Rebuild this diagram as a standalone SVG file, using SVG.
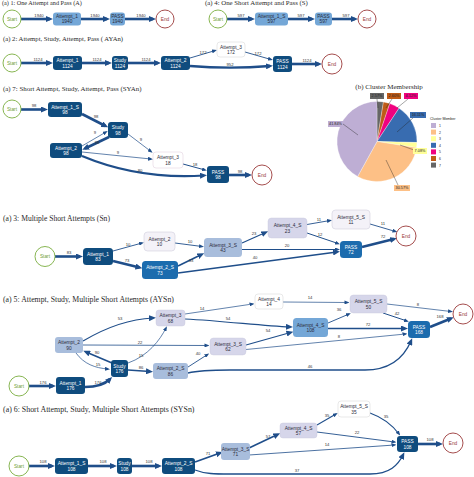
<svg xmlns="http://www.w3.org/2000/svg" width="474" height="477" viewBox="0 0 474 477">
<style>
.t{font-family:"Liberation Serif",serif;fill:#2a2a2a}
.n{font-family:"Liberation Sans",Arial,sans-serif;font-size:4.8px;text-anchor:middle}
.l{font-family:"Liberation Sans",Arial,sans-serif;font-size:4.2px;text-anchor:middle;fill:#333}
.wt{fill:#fff}.kt{fill:#2b2b3a}
.e{fill:none;stroke:#1f4e8a}
.ea{fill:none;stroke:#1f4e8a;marker-end:url(#a)}
.es{fill:none;stroke:#1f4e8a;marker-end:url(#s)}
.st{fill:#fff;stroke:#7aae3f;stroke-width:0.9}.stt{fill:#6f9f35}
.en{fill:#fff;stroke:#9b3a3a;stroke-width:0.9}.ent{fill:#9b3a3a}
.dk{fill:#0f4c7e}
.bl{fill:#1c6cae}
.lb{fill:#74a7d7}
.sb{fill:#a8bddc}
.lv{fill:#d6d6ea;stroke:#c4c4dc;stroke-width:0.4}
.pl{fill:#f4f2f8;stroke:#c9c6d6;stroke-width:0.5}
.wh{fill:#fff;stroke:#d2d2d2;stroke-width:0.5}
.pk{fill:#fff;stroke:#dcc8d8;stroke-width:0.5}
.pt{font-family:"Liberation Sans",Arial,sans-serif;font-size:3.8px;text-anchor:middle;fill:#222}
.ld{stroke:#222;stroke-width:0.4}
</style>
<defs>
<marker id="a" markerUnits="userSpaceOnUse" markerWidth="7" markerHeight="6" refX="4" refY="3" orient="auto"><path d="M0,0 L7,3 L0,6 z" fill="#1f4e8a"/></marker>
<marker id="s" markerUnits="userSpaceOnUse" markerWidth="5" markerHeight="4" refX="3" refY="2" orient="auto"><path d="M0,0 L5,2 L0,4 z" fill="#1f4e8a"/></marker>
</defs>
<rect width="474" height="477" fill="#fff"/>

<!-- titles -->
<text class="t" x="2" y="4.5" font-size="6.2">(a) 1: One Attempt and Pass (A)</text>
<text class="t" x="205" y="4.5" font-size="6.8">(a) 4: One Short Attempt and Pass (S)</text>
<text class="t" x="3" y="40.5" font-size="6.7">(a) 2: Attempt, Study, Attempt, Pass ( AYAn)</text>
<text class="t" x="3" y="91" font-size="6.9">(a) 7: Short Attempt, Study, Attempt, Pass (SYAn)</text>
<text class="t" x="3" y="221" font-size="7.6">(a) 3: Multiple Short Attempts (Sn)</text>
<text class="t" x="3" y="302" font-size="7.8">(a) 5: Attempt, Study, Multiple Short Attempts (AYSn)</text>
<text class="t" x="3" y="412" font-size="7.9">(a)  6: Short Attempt, Study, Multiple Short Attempts (SYSn)</text>

<!-- connectors -->
<g id="connectors">
<!-- a1 -->
<path class="ea" stroke-width="2.6" d="M21,19 H50"/>
<path class="ea" stroke-width="2.6" d="M81,19 H107"/>
<path class="ea" stroke-width="2.6" d="M125,19 H153"/>
<!-- a4 -->
<path class="ea" stroke-width="2.6" d="M227,19 H252"/>
<path class="ea" stroke-width="2.6" d="M288,19 H312"/>
<path class="ea" stroke-width="2.6" d="M332,19 H355"/>
<!-- a2 -->
<path class="ea" stroke-width="2.6" d="M21,63 H50"/>
<path class="ea" stroke-width="2.6" d="M82,63 H109"/>
<path class="ea" stroke-width="2.6" d="M128,63 H158"/>
<path class="es" stroke-width="0.9" d="M190,58 L215,50.6"/>
<path class="es" stroke-width="0.9" d="M245,52 L271,59.5"/>
<path class="ea" stroke-width="2.3" d="M190,66 C215,68 245,68 270,66"/>
<path class="ea" stroke-width="2.6" d="M292,64 H319"/>
<!-- a7 -->
<path class="ea" stroke-width="2.6" d="M21,109.5 H45"/>
<path class="ea" stroke-width="2.6" d="M82,114 L105.5,126"/>
<path class="es" stroke-width="0.7" d="M82,146 L106,132"/>
<path class="ea" stroke-width="2.6" d="M109,137 L85,148.5"/>
<path class="es" stroke-width="0.7" d="M128,134 L151,151.5"/>
<path class="es" stroke-width="0.7" d="M82,152 L151,159"/>
<path class="ea" stroke-width="2.2" d="M82,156 C125,174 165,178 204,175.5"/>
<path class="es" stroke-width="1" d="M183,164 L205,170"/>
<path class="ea" stroke-width="2.6" d="M229,175 H249"/>
<!-- a3 -->
<path class="ea" stroke-width="2.6" d="M55,256.5 H80"/>
<path class="es" stroke-width="0.9" d="M113,251 L142,243"/>
<path class="ea" stroke-width="2.4" d="M113,261 L139.5,267.5"/>
<path class="es" stroke-width="0.9" d="M175,243 L202,246.5"/>
<path class="ea" stroke-width="1.5" d="M178,266 L201.5,254.5"/>
<path class="ea" stroke-width="1.2" d="M242,243 L265.5,232.5"/>
<path class="es" stroke-width="1.1" d="M242,249.5 L338,249.5"/>
<path class="ea" stroke-width="1.7" d="M178,273 L337,252"/>
<path class="es" stroke-width="0.9" d="M307,224.5 L330,220.5"/>
<path class="es" stroke-width="1" d="M307,233 L338,243.5"/>
<path class="es" stroke-width="0.9" d="M370,224 L395.5,231.5"/>
<path class="ea" stroke-width="2.6" d="M362,247 L394,239"/>
<!-- a5 -->
<path class="ea" stroke-width="2.6" d="M29,386 H53"/>
<path class="ea" stroke-width="2.6" d="M85,387 C98,387 106,383 110,379"/>
<path class="ea" stroke-width="1.6" d="M112,363 L86,352"/>
<path class="es" stroke-width="0.7" d="M76,353 C84,364 95,368 108,369"/>
<path class="ea" stroke-width="1.2" d="M83,341 C105,328 130,319 153,318"/>
<path class="es" stroke-width="0.8" d="M83,345 L207.5,345.5"/>
<path class="es" stroke-width="0.7" d="M128,363 C148,356 160,340 166,328"/>
<path class="ea" stroke-width="1.4" d="M128,370 L150,371.5"/>
<path class="es" stroke-width="0.9" d="M188,367 L207.5,354.5"/>
<path class="es" stroke-width="0.7" d="M185,314 L252.5,304"/>
<path class="ea" stroke-width="1.2" d="M185,319 C225,321 262,326 290,327"/>
<path class="ea" stroke-width="1.2" d="M246,345 L290.5,332.5"/>
<path class="es" stroke-width="0.7" d="M283,302 L347.5,302.5"/>
<path class="es" stroke-width="0.9" d="M328,323 L349,314"/>
<path class="ea" stroke-width="1.4" d="M328,328.5 L405,328.5"/>
<path class="es" stroke-width="0.7" d="M246,349.5 L405.5,334"/>
<path class="es" stroke-width="1" d="M383,313 L407,321"/>
<path class="es" stroke-width="0.7" d="M387,304 L451,311.5"/>
<path class="ea" stroke-width="2.6" d="M430,327 L451,318.5"/>
<path class="ea" stroke-width="1.3" d="M188,373 C200,370 215,370 230,370 L365,370 C392,370 405,355 411,341"/>
<!-- a6 -->
<path class="ea" stroke-width="2.6" d="M29,466 H52"/>
<path class="ea" stroke-width="2.6" d="M88,466 H114"/>
<path class="ea" stroke-width="2.6" d="M132,466 H159"/>
<path class="ea" stroke-width="1.8" d="M195,462 L220,453"/>
<path class="ea" stroke-width="1.6" d="M249,448 L277.5,434.5"/>
<path class="es" stroke-width="1.1" d="M317,425 L336,414"/>
<path class="es" stroke-width="0.9" d="M317,432 L394.5,442"/>
<path class="es" stroke-width="0.8" d="M249,455 L394.5,445"/>
<path class="es" stroke-width="1.1" d="M370,413 C384,418 393,426 399,434"/>
<path class="ea" stroke-width="2.6" d="M418,444 H440"/>
<path class="ea" stroke-width="1.3" d="M195,470 C205,474 215,474 230,474 L370,474 C390,474 398,465 403,455"/>
</g>

<!-- edge labels -->
<g id="edge-labels">
<text class="l" x="39" y="16.5">1940</text><text class="l" x="95" y="16.5">1940</text><text class="l" x="141" y="16.5">1940</text>
<text class="l" x="241" y="16.5">597</text><text class="l" x="301" y="16.5">597</text><text class="l" x="346" y="16.5">597</text>
<text class="l" x="38" y="60.5">1124</text><text class="l" x="97" y="60.5">1124</text><text class="l" x="146" y="60.5">1124</text>
<text class="l" x="203" y="53.5">172</text><text class="l" x="258" y="54.5">172</text><text class="l" x="230" y="65.5">952</text><text class="l" x="307" y="61.5">1124</text>
<text class="l" x="34" y="107">98</text><text class="l" x="96" y="118">98</text><text class="l" x="95" y="134">9</text><text class="l" x="97" y="143.5">98</text>
<text class="l" x="141" y="141">9</text><text class="l" x="118" y="154">9</text><text class="l" x="140" y="172">80</text><text class="l" x="195" y="166">18</text><text class="l" x="240" y="172.5">98</text>
<text class="l" x="69" y="253.5">83</text><text class="l" x="128" y="245.5">10</text><text class="l" x="127" y="262">73</text><text class="l" x="190" y="242.5">10</text>
<text class="l" x="191" y="262">33</text><text class="l" x="254" y="235">23</text><text class="l" x="287" y="247">20</text><text class="l" x="255" y="258.5">40</text>
<text class="l" x="319" y="220.5">11</text><text class="l" x="320" y="236">12</text><text class="l" x="383" y="225">11</text><text class="l" x="383" y="237.5">72</text>
<text class="l" x="43" y="383.5">176</text><text class="l" x="98" y="383.5">176</text><text class="l" x="97" y="353.5">90</text><text class="l" x="98" y="366">15</text>
<text class="l" x="120" y="319.5">53</text><text class="l" x="140" y="344">22</text><text class="l" x="141" y="357">15</text><text class="l" x="141" y="369">86</text>
<text class="l" x="198" y="355">40</text><text class="l" x="202" y="310">14</text><text class="l" x="228" y="320">54</text><text class="l" x="268" y="331.5">54</text>
<text class="l" x="310" y="299">14</text><text class="l" x="339" y="311">36</text><text class="l" x="368" y="326">72</text><text class="l" x="339" y="338">8</text>
<text class="l" x="397" y="314.5">42</text><text class="l" x="418" y="306">8</text><text class="l" x="440" y="318">168</text><text class="l" x="310" y="367.5">46</text>
<text class="l" x="43" y="462.5">108</text><text class="l" x="103" y="462.5">108</text><text class="l" x="149" y="462.5">108</text><text class="l" x="208" y="455">71</text>
<text class="l" x="268" y="437.5">57</text><text class="l" x="327" y="417">35</text><text class="l" x="357" y="433.5">22</text><text class="l" x="327" y="446">14</text>
<text class="l" x="386" y="418">35</text><text class="l" x="430" y="440.5">108</text><text class="l" x="297" y="471.5">37</text>
</g>

<!-- a1 nodes -->
<g id="a1-start"><circle class="st" cx="12" cy="19" r="9"/><text class="n stt" x="12" y="20.7">Start</text></g>
<g id="a1-attempt1"><rect class="lb" x="53" y="12.5" width="28" height="13" rx="3"/><text class="n kt" x="67" y="18">Attempt_1</text><text class="n kt" x="67" y="23.3">1940</text></g>
<g id="a1-pass"><rect class="lb" x="110" y="12.5" width="15" height="13" rx="3"/><text class="n kt" x="117.5" y="18">PASS</text><text class="n kt" x="117.5" y="23.3">1940</text></g>
<g id="a1-end"><circle class="en" cx="165" cy="19" r="9"/><text class="n ent" x="165" y="20.7">End</text></g>

<!-- a4 nodes -->
<g id="a4-start"><circle class="st" cx="218" cy="19" r="9"/><text class="n stt" x="218" y="20.7">Start</text></g>
<g id="a4-attempt1s"><rect class="lb" x="255" y="12.5" width="33" height="13" rx="3"/><text class="n kt" x="271.5" y="18">Attempt_1_S</text><text class="n kt" x="271.5" y="23.3">597</text></g>
<g id="a4-pass"><rect class="lb" x="315" y="12.5" width="17" height="13" rx="3"/><text class="n kt" x="323.5" y="18">PASS</text><text class="n kt" x="323.5" y="23.3">597</text></g>
<g id="a4-end"><circle class="en" cx="367" cy="19" r="9"/><text class="n ent" x="367" y="20.7">End</text></g>

<!-- a2 nodes -->
<g id="a2-start"><circle class="st" cx="12" cy="63" r="9"/><text class="n stt" x="12" y="64.7">Start</text></g>
<g id="a2-attempt1"><rect class="dk" x="53" y="56" width="29" height="14" rx="3"/><text class="n wt" x="67.5" y="62">Attempt_1</text><text class="n wt" x="67.5" y="67.5">1124</text></g>
<g id="a2-study"><rect class="dk" x="112" y="56" width="16" height="14" rx="3"/><text class="n wt" x="120" y="62">Study</text><text class="n wt" x="120" y="67.5">1124</text></g>
<g id="a2-attempt2"><rect class="dk" x="161" y="56" width="29" height="14" rx="3"/><text class="n wt" x="175.5" y="62">Attempt_2</text><text class="n wt" x="175.5" y="67.5">1124</text></g>
<g id="a2-attempt3"><rect class="wh" x="217" y="42" width="28" height="15" rx="3"/><text class="n kt" x="231" y="48.5">Attempt_3</text><text class="n kt" x="231" y="54">172</text></g>
<g id="a2-pass"><rect class="dk" x="273" y="56" width="19" height="16" rx="3"/><text class="n wt" x="282.5" y="63">PASS</text><text class="n wt" x="282.5" y="68.5">1124</text></g>
<g id="a2-end"><circle class="en" cx="332" cy="64" r="10"/><text class="n ent" x="332" y="65.7">End</text></g>

<!-- a7 nodes -->
<g id="a7-start"><circle class="st" cx="12" cy="109" r="9"/><text class="n stt" x="12" y="110.7">Start</text></g>
<g id="a7-attempt1s"><rect class="dk" x="48" y="102" width="34" height="15" rx="3"/><text class="n wt" x="65" y="108.5">Attempt_1_S</text><text class="n wt" x="65" y="114">98</text></g>
<g id="a7-study"><rect class="dk" x="108" y="122" width="20" height="16" rx="3"/><text class="n wt" x="118" y="129">Study</text><text class="n wt" x="118" y="134.5">98</text></g>
<g id="a7-attempt2"><rect class="dk" x="50" y="143" width="32" height="15" rx="3"/><text class="n wt" x="66" y="149.5">Attempt_2</text><text class="n wt" x="66" y="155">98</text></g>
<g id="a7-attempt3"><rect class="pk" x="153" y="152" width="30" height="16" rx="3"/><text class="n kt" x="168" y="159">Attempt_3</text><text class="n kt" x="168" y="164.5">18</text></g>
<g id="a7-pass"><rect class="dk" x="207" y="166" width="22" height="17" rx="3"/><text class="n wt" x="218" y="173.5">PASS</text><text class="n wt" x="218" y="179">98</text></g>
<g id="a7-end"><circle class="en" cx="262" cy="175" r="10"/><text class="n ent" x="262" y="176.7">End</text></g>

<!-- pie chart -->
<g id="pie">
<text class="t" x="389" y="89" font-size="7" text-anchor="middle">(b) Cluster Membership</text>
<g stroke="#fff" stroke-width="0.3">
<path fill="#666666" d="M377,141.5 L377,101.5 A40,40 0 0 1 383.44,102.02 Z"/>
<path fill="#bf5b17" d="M377,141.5 L383.44,102.02 A40,40 0 0 1 389.78,103.6 Z"/>
<path fill="#f0027f" d="M377,141.5 L389.78,103.6 A40,40 0 0 1 399.06,108.13 Z"/>
<path fill="#386cb0" d="M377,141.5 L399.06,108.13 A40,40 0 0 1 416.99,142.53 Z"/>
<path fill="#ffff99" d="M377,141.5 L416.99,142.53 A40,40 0 0 1 416.51,147.73 Z"/>
<path fill="#fdc086" d="M377,141.5 L416.51,147.73 A40,40 0 0 1 357.61,176.48 Z"/>
<path fill="#beaed4" d="M377,141.5 L357.61,176.48 A40,40 0 0 1 377,101.5 Z"/>
</g>
<line class="ld" x1="343" y1="124" x2="358" y2="135"/>
<line class="ld" x1="377" y1="99" x2="378" y2="108"/>
<line class="ld" x1="392" y1="99" x2="386" y2="108"/>
<line class="ld" x1="408" y1="99" x2="397" y2="108"/>
<line class="ld" x1="413" y1="118" x2="397" y2="132"/>
<line class="ld" x1="414" y1="150" x2="400" y2="145"/>
<line class="ld" x1="398" y1="185" x2="386" y2="160"/>
<rect x="370" y="93" width="14" height="6" fill="#666666"/><text class="pt" x="377" y="97.4">2.57%</text>
<rect x="387" y="93" width="14" height="6" fill="#bf5b17"/><text class="pt" x="394" y="97.4">2.60%</text>
<rect x="404" y="93" width="14" height="6" fill="#f0027f"/><text class="pt" x="411" y="97.4">4.12%</text>
<rect x="410" y="112" width="16" height="6" fill="#386cb0"/><text class="pt" x="418" y="116.4">16.11%</text>
<rect x="328" y="121" width="15" height="6" fill="#beaed4"/><text class="pt" x="335.5" y="125.4">41.84%</text>
<rect x="413" y="148" width="14" height="6" fill="#ffff99"/><text class="pt" x="420" y="152.4">7.08%</text>
<rect x="394" y="185" width="16" height="6" fill="#fdc086"/><text class="pt" x="402" y="189.4">30.57%</text>
<text x="430" y="120" font-family="Liberation Sans,Arial,sans-serif" font-size="3.6" fill="#222">Cluster Member</text>
<rect x="431" y="123" width="5" height="5" fill="#beaed4"/><text x="439" y="127" font-family="Liberation Sans,Arial,sans-serif" font-size="3.4" fill="#222">1</text>
<rect x="431" y="129.6" width="5" height="5" fill="#fdc086"/><text x="439" y="133.6" font-family="Liberation Sans,Arial,sans-serif" font-size="3.4" fill="#222">2</text>
<rect x="431" y="136.2" width="5" height="5" fill="#ffff99"/><text x="439" y="140.2" font-family="Liberation Sans,Arial,sans-serif" font-size="3.4" fill="#222">3</text>
<rect x="431" y="142.8" width="5" height="5" fill="#386cb0"/><text x="439" y="146.8" font-family="Liberation Sans,Arial,sans-serif" font-size="3.4" fill="#222">4</text>
<rect x="431" y="149.4" width="5" height="5" fill="#f0027f"/><text x="439" y="153.4" font-family="Liberation Sans,Arial,sans-serif" font-size="3.4" fill="#222">5</text>
<rect x="431" y="156" width="5" height="5" fill="#bf5b17"/><text x="439" y="160" font-family="Liberation Sans,Arial,sans-serif" font-size="3.4" fill="#222">6</text>
<rect x="431" y="162.6" width="5" height="5" fill="#666666"/><text x="439" y="166.6" font-family="Liberation Sans,Arial,sans-serif" font-size="3.4" fill="#222">7</text>
</g>

<!-- a3 nodes -->
<g id="a3-start"><circle class="st" cx="45" cy="256.5" r="10"/><text class="n stt" x="45" y="258.2">Start</text></g>
<g id="a3-attempt1"><rect class="dk" x="83" y="248" width="30" height="17" rx="3.5"/><text class="n wt" x="98" y="255.5">Attempt_1</text><text class="n wt" x="98" y="261">83</text></g>
<g id="a3-attempt2"><rect class="pl" x="144" y="232" width="31" height="19" rx="3.5"/><text class="n kt" x="159.5" y="240.5">Attempt_2</text><text class="n kt" x="159.5" y="246">10</text></g>
<g id="a3-attempt2s"><rect class="bl" x="142" y="261" width="36" height="18" rx="3.5"/><text class="n wt" x="160" y="269">Attempt_2_S</text><text class="n wt" x="160" y="274.5">73</text></g>
<g id="a3-attempt3s"><rect class="sb" x="204" y="238" width="38" height="19" rx="3.5"/><text class="n kt" x="223" y="246.5">Attempt_3_S</text><text class="n kt" x="223" y="252">43</text></g>
<g id="a3-attempt4s"><rect class="lv" x="268" y="218" width="39" height="20" rx="3.5"/><text class="n kt" x="287.5" y="227">Attempt_4_S</text><text class="n kt" x="287.5" y="232.5">23</text></g>
<g id="a3-attempt5s"><rect class="pl" x="332" y="210" width="38" height="19" rx="3.5"/><text class="n kt" x="351" y="218.5">Attempt_5_S</text><text class="n kt" x="351" y="224">11</text></g>
<g id="a3-pass"><rect class="bl" x="340" y="241" width="22" height="17" rx="3.5"/><text class="n wt" x="351" y="248.5">PASS</text><text class="n wt" x="351" y="254">72</text></g>
<g id="a3-end"><circle class="en" cx="406" cy="236" r="10"/><text class="n ent" x="406" y="237.7">End</text></g>

<!-- a5 nodes -->
<g id="a5-attempt4"><rect class="wh" x="255" y="294" width="28" height="15" rx="3"/><text class="n kt" x="269" y="300.5">Attempt_4</text><text class="n kt" x="269" y="306">14</text></g>
<g id="a5-attempt5s"><rect class="lv" x="350" y="295" width="37" height="18" rx="3.5"/><text class="n kt" x="368.5" y="303">Attempt_5_S</text><text class="n kt" x="368.5" y="308.5">50</text></g>
<g id="a5-attempt3"><rect class="lv" x="156" y="310" width="29" height="16" rx="3"/><text class="n kt" x="170.5" y="317">Attempt_3</text><text class="n kt" x="170.5" y="322.5">68</text></g>
<g id="a5-attempt4s"><rect class="lb" x="293" y="318" width="35" height="19" rx="3.5"/><text class="n kt" x="310.5" y="326.5">Attempt_4_S</text><text class="n kt" x="310.5" y="332">108</text></g>
<g id="a5-pass"><rect class="bl" x="408" y="321" width="22" height="17" rx="3.5"/><text class="n wt" x="419" y="328.5">PASS</text><text class="n wt" x="419" y="334">168</text></g>
<g id="a5-end"><circle class="en" cx="463" cy="314" r="10"/><text class="n ent" x="463" y="315.7">End</text></g>
<g id="a5-attempt2"><rect class="sb" x="55" y="337" width="28" height="16" rx="3"/><text class="n kt" x="69" y="344">Attempt_2</text><text class="n kt" x="69" y="349.5">90</text></g>
<g id="a5-attempt3s"><rect class="lv" x="210" y="338" width="36" height="17" rx="3.5"/><text class="n kt" x="228" y="345.5">Attempt_3_S</text><text class="n kt" x="228" y="351">62</text></g>
<g id="a5-study"><rect class="dk" x="111" y="360" width="17" height="17" rx="3"/><text class="n wt" x="119.5" y="367.5">Study</text><text class="n wt" x="119.5" y="373">176</text></g>
<g id="a5-attempt2s"><rect class="sb" x="153" y="363" width="35" height="16" rx="3"/><text class="n kt" x="170.5" y="370">Attempt_2_S</text><text class="n kt" x="170.5" y="375.5">86</text></g>
<g id="a5-start"><circle class="st" cx="19" cy="386" r="10"/><text class="n stt" x="19" y="387.7">Start</text></g>
<g id="a5-attempt1"><rect class="dk" x="56" y="377" width="29" height="17" rx="3"/><text class="n wt" x="70.5" y="384.5">Attempt_1</text><text class="n wt" x="70.5" y="390">176</text></g>

<!-- a6 nodes -->
<g id="a6-start"><circle class="st" cx="19" cy="466" r="10"/><text class="n stt" x="19" y="467.7">Start</text></g>
<g id="a6-attempt1s"><rect class="dk" x="55" y="458" width="33" height="16" rx="3"/><text class="n wt" x="71.5" y="465">Attempt_1_S</text><text class="n wt" x="71.5" y="470.5">108</text></g>
<g id="a6-study"><rect class="dk" x="117" y="458" width="15" height="16" rx="3"/><text class="n wt" x="124.5" y="465">Study</text><text class="n wt" x="124.5" y="470.5">108</text></g>
<g id="a6-attempt2s"><rect class="dk" x="162" y="458" width="33" height="16" rx="3"/><text class="n wt" x="178.5" y="465">Attempt_2_S</text><text class="n wt" x="178.5" y="470.5">108</text></g>
<g id="a6-attempt3s"><rect class="sb" x="221" y="443" width="29" height="17" rx="3"/><text class="n kt" x="235.5" y="450.5">Attempt_3_S</text><text class="n kt" x="235.5" y="456">71</text></g>
<g id="a6-attempt4s"><rect class="lv" x="280" y="423" width="37" height="15" rx="3"/><text class="n kt" x="298.5" y="429.5">Attempt_4_S</text><text class="n kt" x="298.5" y="435">57</text></g>
<g id="a6-attempt5s"><rect class="wh" x="338" y="401" width="32" height="16" rx="3"/><text class="n kt" x="354" y="408">Attempt_5_S</text><text class="n kt" x="354" y="413.5">35</text></g>
<g id="a6-pass"><rect class="dk" x="397" y="436" width="21" height="16" rx="3"/><text class="n wt" x="407.5" y="443">PASS</text><text class="n wt" x="407.5" y="448.5">108</text></g>
<g id="a6-end"><circle class="en" cx="453" cy="443" r="10"/><text class="n ent" x="453" y="444.7">End</text></g>
</svg>
